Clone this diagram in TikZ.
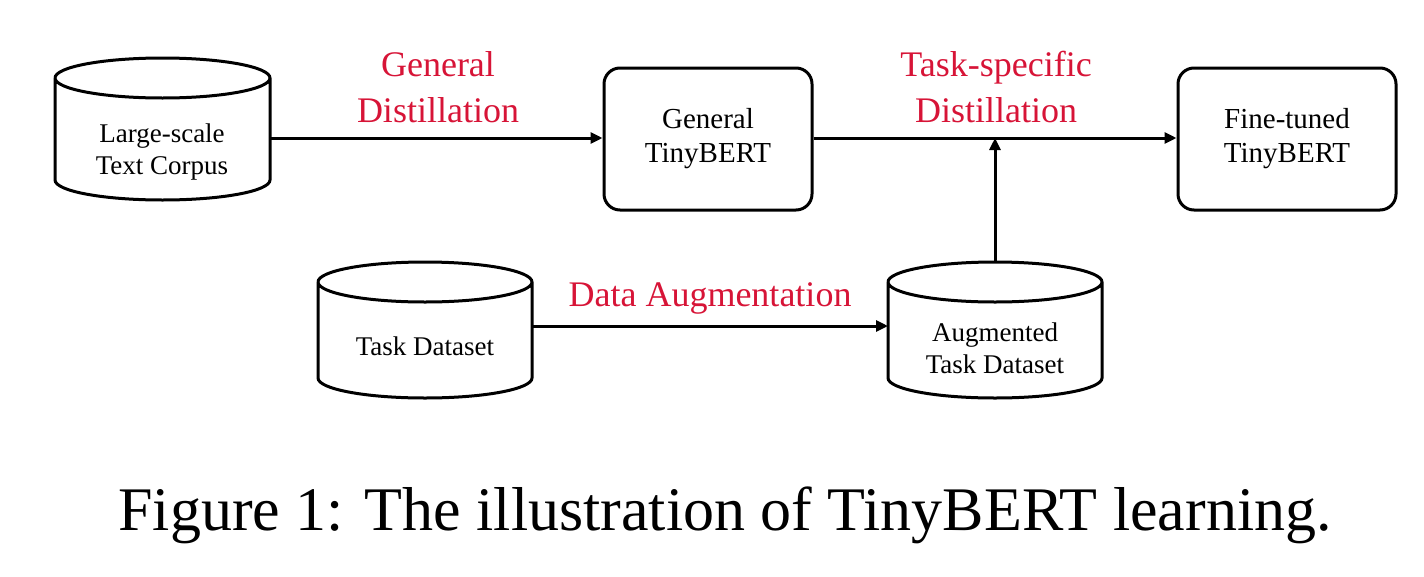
\documentclass[tikz,border=0pt]{standalone}
\usepackage{fontspec}
\setmainfont{Liberation Serif}
\usetikzlibrary{arrows.meta}
\definecolor{lbl}{RGB}{215,20,55}
\tikzset{
  conn/.style={line width=3pt,-{Triangle[length=12pt,width=11pt]}},
  rbox/.style={draw,line width=3pt,rounded corners=16pt,align=center,font=\fontsize{29}{34}\selectfont},
  lab/.style={text=lbl,align=center,font=\fontsize{36}{46}\selectfont},
  ctext/.style={align=center,font=\fontsize{27}{32}\selectfont}
}
\newcommand{\cyl}[5]{% x1 x2 y1 y2 name
  \pgfmathsetmacro{\cx}{(#1+#2)/2}\pgfmathsetmacro{\rx}{(#2-#1)/2}
  \draw[line width=3pt] (#1,#3+20) arc[start angle=180,end angle=-180,x radius=\rx,y radius=20]
    (#1,#3+20) -- (#1,#4-20) arc[start angle=180,end angle=0,x radius=\rx,y radius=20] -- (#2,#3+20);
  \coordinate (#5) at (\cx,{(#3+#4)/2});
  \coordinate (#5-top) at (\cx,#3);
}
\begin{document}
\begin{tikzpicture}[x=1pt,y=-1pt]
\useasboundingbox (0,0) rectangle (1424,576);
\cyl{55}{270}{58}{200}{c1}
\cyl{318}{532}{262}{398}{c2}
\cyl{888}{1102}{262}{398}{c3}
\node[ctext] at (162,152) {Large-scale\\Text Corpus};
\node[ctext] at (425,346) {Task Dataset};
\node[ctext] at (995,348) {Augmented\\Task Dataset};
\node[rbox,minimum width=208pt,minimum height=142pt] (gt) at (708,139) {General\\TinyBERT};
\node[rbox,minimum width=218pt,minimum height=142pt] (ft) at (1287,139) {Fine-tuned\\TinyBERT};
\coordinate (c1r) at (270,138);
\coordinate (c2r) at (532,326);
\coordinate (c3l) at (888,326);
\coordinate (mid) at (995,138);
\draw[conn] (c1r) -- (gt.west |- c1r);
\draw[conn] (gt.east |- c1r) -- (ft.west |- c1r);
\draw[conn] (c2r) -- (c3l);
\draw[conn] (c3-top) -- (mid);
\node[lab] at (438,87) {General\\Distillation};
\node[lab] at (996,87) {Task-specific\\Distillation};
\node[lab] at (710,298) {Data Augmentation};
\node[font=\fontsize{62}{70}\selectfont] at (725,515) {Figure 1: The illustration of TinyBERT learning.};
\end{tikzpicture}
\end{document}
